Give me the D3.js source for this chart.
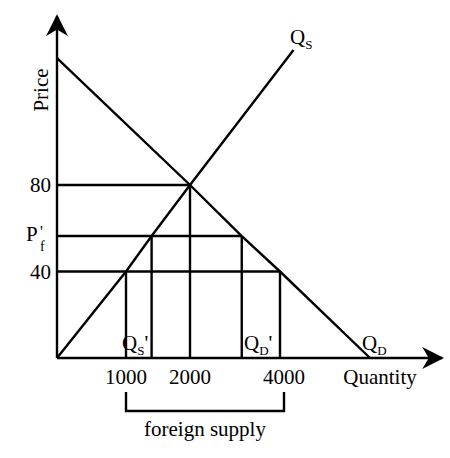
<!DOCTYPE html><html><head><meta charset="utf-8">
<script src="https://cdn.jsdelivr.net/npm/d3@7"></script>
<style>body{margin:0;background:#fff}text{font-family:"Liberation Serif","DejaVu Serif",serif;fill:#000}</style>
</head><body><svg id="c" width="450" height="458"></svg><script>
const supplyQ=[0,1000,1400,2000,4300];
const supplyP=[0,40,56.4,80,142.4];
const demandQ=[0,2000,3150,4000,6000];
const demandP=[138.7,80,56.4,40,0];
const priceLevels=[80,56.4,40];
const priceLabels=["80","P'f","40"];
const qLevelsLow=[1000,1400,2000,3150,4000];
const qLevelsP=[40,56.4,80,56.4,40];
const qTicks=[1000,2000,4000];
const qTickLabels=["1000","2000","4000"];
const bracket=[1000,4000];

const svg=d3.select("#c");
const x=d3.scaleLinear().domain([0,1000,2000,4000,8000]).range([57,126,190,280,460]);
const y=d3.scaleLinear().domain([0,80]).range([358,185]);
const sw=2.4, fs=21;
const defs=svg.append("defs");
defs.append("marker").attr("id","ar").attr("viewBox","0 0 10 10").attr("refX",9).attr("refY",5)
 .attr("markerWidth",22).attr("markerHeight",22).attr("markerUnits","userSpaceOnUse").attr("orient","auto")
 .append("path").attr("d","M0,0 L10,5 L0,10 L3,5 Z");
svg.append("line").attr("x1",x(0)).attr("y1",y(0)).attr("x2",x(0)).attr("y2",y(158)).attr("stroke","#000").attr("stroke-width",sw).attr("marker-end","url(#ar)");
svg.append("line").attr("x1",x(0)).attr("y1",y(0)).attr("x2",x(7600)).attr("y2",y(0)).attr("stroke","#000").attr("stroke-width",sw).attr("marker-end","url(#ar)");
const line=d3.line();
svg.append("path").attr("d",line(supplyQ.map((q,i)=>[x(q),y(supplyP[i])]))).attr("fill","none").attr("stroke","#000").attr("stroke-width",sw);
svg.append("path").attr("d",line(demandQ.map((q,i)=>[x(q),y(demandP[i])]))).attr("fill","none").attr("stroke","#000").attr("stroke-width",sw);
const hEnd=[2000,3150,4000];
priceLevels.forEach((p,i)=>{
 svg.append("line").attr("x1",x(0)).attr("x2",x(hEnd[i])).attr("y1",y(p)).attr("y2",y(p)).attr("stroke","#000").attr("stroke-width",sw);
});
qLevelsLow.forEach((q,i)=>{
 svg.append("line").attr("x1",x(q)).attr("x2",x(q)).attr("y1",y(qLevelsP[i])).attr("y2",y(0)).attr("stroke","#000").attr("stroke-width",sw);
});
priceLabels.forEach((t,i)=>{
 if(t==="P'f"){
  const yy=y(priceLevels[i])+5;
  svg.append("text").attr("x",26).attr("y",yy).attr("font-size",fs).text("P");
  svg.append("text").attr("x",40).attr("y",yy-4).attr("font-size",16).text("'");
  svg.append("text").attr("x",40).attr("y",yy+10).attr("font-size",14).text("f");
 } else svg.append("text").attr("x",51).attr("y",y(priceLevels[i])+7).attr("text-anchor","end").attr("font-size",fs).text(t);
});
qTicks.forEach((q,i)=>svg.append("text").attr("x",x(q)+(i==2?4:0)).attr("y",384).attr("text-anchor","middle").attr("font-size",fs).text(qTickLabels[i]));
svg.append("text").attr("x",380).attr("y",384).attr("text-anchor","middle").attr("font-size",fs).text("Quantity");
svg.append("text").attr("transform","translate(48,90) rotate(-90)").attr("text-anchor","middle").attr("font-size",fs).text("Price");
function sub(xp,yp,a,b,pr){const t=svg.append("text").attr("x",xp).attr("y",yp).attr("font-size",fs).text(a);
 t.append("tspan").attr("font-size",13).attr("dy",5).text(b); if(pr) t.append("tspan").attr("font-size",fs).attr("dy",-5).text("'");}
sub(290,44,"Q","S");
sub(122,350,"Q","S",true);
sub(244,350,"Q","D",true);
sub(362,350,"Q","D");
svg.append("path").attr("d",`M${x(bracket[0])},392 V411 H${x(bracket[1])+4} V392`).attr("fill","none").attr("stroke","#000").attr("stroke-width",sw);
svg.append("text").attr("x",205).attr("y",436).attr("text-anchor","middle").attr("font-size",fs).text("foreign supply");
</script></body></html>
